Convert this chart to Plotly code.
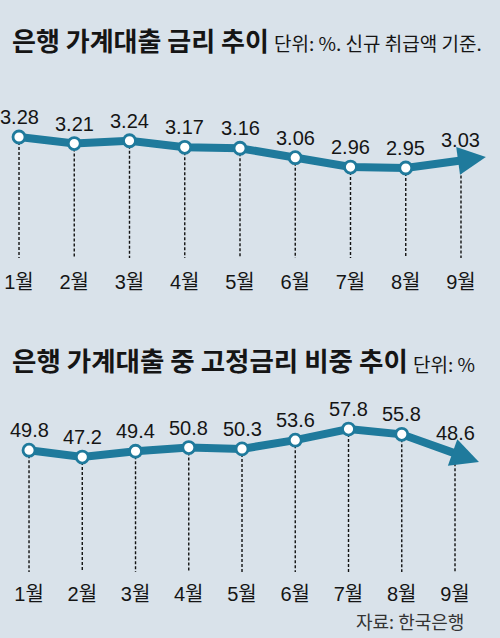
import plotly.graph_objects as go

# data
months = [1, 2, 3, 4, 5, 6, 7, 8, 9]
month_labels = ['1월', '2월', '3월', '4월', '5월', '6월', '7월', '8월', '9월']
rate = [3.28, 3.21, 3.24, 3.17, 3.16, 3.06, 2.96, 2.95, 3.03]
fixed_share = [49.8, 47.2, 49.4, 50.8, 50.3, 53.6, 57.8, 55.8, 48.6]

title_top = '은행 가계대출 금리 추이'
unit_top = '단위: %. 신규 취급액 기준.'
title_bottom = '은행 가계대출 중 고정금리 비중 추이'
unit_bottom = '단위: %'
source = '자료: 한국은행'

# style
BG = '#d9e2ea'
LINE = '#1f7a9c'
FONT_KR = 'Noto Sans CJK KR'
FONT_NUM = 'Liberation Sans, Noto Sans CJK KR'
W, H = 500, 638
ARROW_EXT = 0.45  # arrow tip beyond last month, in month units

fig = go.Figure()


def add_panel(values, xref, yref, ybottom, fmt):
    # dashed drop lines
    dx, dy = [], []
    for m, v in zip(months, values):
        dx += [m, m, None]
        dy += [v, ybottom, None]
    fig.add_trace(go.Scatter(x=dx, y=dy, mode='lines', xaxis=xref, yaxis=yref,
                             line=dict(color='#111', width=1.4, dash='3px,2px'),
                             hoverinfo='skip', showlegend=False))
    # main line
    fig.add_trace(go.Scatter(x=months, y=values, mode='lines', xaxis=xref, yaxis=yref,
                             line=dict(color=LINE, width=8), showlegend=False))
    # arrowhead along the last segment
    slope = values[-1] - values[-2]
    fig.add_trace(go.Scatter(x=[months[-1], months[-1] + ARROW_EXT],
                             y=[values[-1], values[-1] + slope * ARROW_EXT],
                             mode='markers', xaxis=xref, yaxis=yref,
                             marker=dict(symbol=['circle', 'arrow-up'], size=[0, 28],
                                         angleref='previous', color=LINE, opacity=1,
                                         line=dict(width=0)),
                             showlegend=False))
    # point markers (not on the last month)
    fig.add_trace(go.Scatter(x=months[:-1], y=values[:-1], mode='markers',
                             xaxis=xref, yaxis=yref,
                             marker=dict(size=12, color='white',
                                         line=dict(color=LINE, width=2.8)),
                             showlegend=False))
    for m, v in zip(months, values):
        fig.add_annotation(x=m, y=v, xref=xref, yref=yref, text=fmt.format(v),
                           showarrow=False, yshift=20,
                           font=dict(family=FONT_NUM, size=20, color='#151515'))


add_panel(rate, 'x', 'y', 1.992, '{:.2f}')
add_panel(fixed_share, 'x2', 'y2', 3.66, '{:.1f}')

axis_x = dict(tickvals=months, ticktext=month_labels, showgrid=False, zeroline=False,
              showline=False, ticks='outside', tickcolor='rgba(0,0,0,0)',
              tickfont=dict(family=FONT_NUM, size=20, color='#151515'))
axis_y = dict(visible=False, showgrid=False, zeroline=False)

fig.update_layout(
    width=W, height=H,
    margin=dict(l=0, r=0, t=0, b=0),
    paper_bgcolor=BG, plot_bgcolor=BG,
    xaxis=dict(axis_x, domain=[0, 1], range=[0.656, 9.706], anchor='y', ticklen=6),
    yaxis=dict(axis_y, domain=[0.5956, 0.8433], range=[1.992, 3.674]),
    xaxis2=dict(axis_x, domain=[0, 1], range=[0.455, 9.845], anchor='y2', ticklen=4),
    yaxis2=dict(axis_y, domain=[0.1034, 0.3730], range=[3.66, 68.8]),
)


def text(x, y, s, size, bold=False, anchor='left', color='#151515'):
    fig.add_annotation(x=x / W, y=1 - y / H, xref='paper', yref='paper',
                       text=f'<b>{s}</b>' if bold else s, showarrow=False,
                       xanchor=anchor, yanchor='middle',
                       font=dict(family=FONT_KR, size=size, color=color))


text(10, 40, title_top, 26, bold=True)
text(272, 42, unit_top, 19)
text(10, 360, title_bottom, 26.5, bold=True)
text(411, 363, unit_bottom, 19)
text(466, 621, source, 18, anchor='right', color='#333')

# drop the page's default body margin so the chart fills the window
fig.write_html('out.html', config={'displayModeBar': False},
               post_script="document.body.style.margin='0';document.body.style.overflow='hidden';")
